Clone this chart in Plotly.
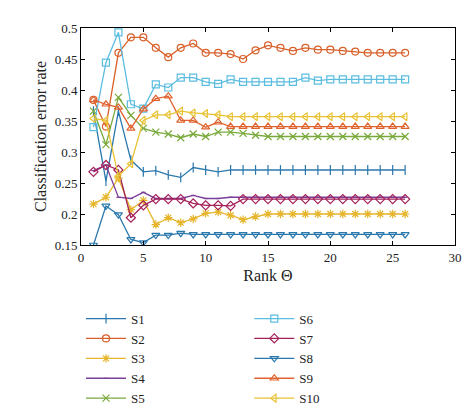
import plotly.graph_objects as go

rank = list(range(1, 27))

s1 = [0.366, 0.253, 0.366, 0.287, 0.268, 0.270, 0.263, 0.259, 0.275, 0.271, 0.268, 0.271, 0.271,
      0.271, 0.271, 0.271, 0.271, 0.271, 0.271, 0.271, 0.271, 0.271, 0.271, 0.271, 0.271, 0.271]
s2 = [0.384, 0.341, 0.460, 0.485, 0.485, 0.468, 0.453, 0.468, 0.475, 0.460, 0.460, 0.458, 0.450,
      0.464, 0.472, 0.468, 0.463, 0.468, 0.465, 0.465, 0.463, 0.462, 0.460, 0.460, 0.460, 0.460]
s3 = [0.216, 0.227, 0.258, 0.207, 0.222, 0.183, 0.194, 0.186, 0.192, 0.201, 0.203, 0.198, 0.191,
      0.196, 0.200, 0.200, 0.200, 0.200, 0.200, 0.200, 0.200, 0.200, 0.200, 0.200, 0.200, 0.200]
s4 = [0.270, 0.279, 0.227, 0.225, 0.235, 0.225, 0.225, 0.225, 0.230, 0.225, 0.225, 0.227, 0.227,
      0.227, 0.227, 0.227, 0.227, 0.227, 0.227, 0.227, 0.227, 0.227, 0.227, 0.227, 0.227, 0.227]
s5 = [0.366, 0.312, 0.388, 0.359, 0.338, 0.332, 0.329, 0.323, 0.329, 0.325, 0.332, 0.332, 0.330,
      0.327, 0.325, 0.325, 0.325, 0.325, 0.325, 0.325, 0.325, 0.325, 0.325, 0.325, 0.325, 0.325]
s6 = [0.340, 0.444, 0.493, 0.377, 0.370, 0.409, 0.404, 0.420, 0.420, 0.413, 0.410, 0.417, 0.413,
      0.413, 0.413, 0.413, 0.413, 0.420, 0.415, 0.417, 0.417, 0.417, 0.417, 0.417, 0.417, 0.417]
s7 = [0.268, 0.279, 0.271, 0.194, 0.214, 0.224, 0.224, 0.224, 0.217, 0.214, 0.214, 0.213, 0.224,
      0.224, 0.224, 0.224, 0.224, 0.224, 0.224, 0.224, 0.224, 0.224, 0.224, 0.224, 0.224, 0.224]
s8 = [0.150, 0.213, 0.199, 0.159, 0.154, 0.166, 0.166, 0.169, 0.167, 0.167, 0.167, 0.167, 0.167,
      0.167, 0.167, 0.167, 0.167, 0.167, 0.167, 0.167, 0.167, 0.167, 0.167, 0.167, 0.167, 0.167]
s9 = [0.384, 0.377, 0.372, 0.338, 0.369, 0.386, 0.390, 0.351, 0.351, 0.340, 0.348, 0.341, 0.341,
      0.341, 0.341, 0.341, 0.341, 0.341, 0.341, 0.341, 0.341, 0.341, 0.341, 0.341, 0.341, 0.341]
s10 = [0.354, 0.351, 0.261, 0.281, 0.351, 0.360, 0.360, 0.366, 0.363, 0.362, 0.360, 0.357, 0.357,
       0.357, 0.357, 0.357, 0.357, 0.357, 0.357, 0.357, 0.357, 0.357, 0.357, 0.357, 0.357, 0.357]

series = [
    ("S1", s1, "#2b78ad", "line-ns-open", "legend"),
    ("S2", s2, "#d8602a", "circle-open", "legend"),
    ("S3", s3, "#e6b52c", "asterisk-open", "legend"),
    ("S4", s4, "#7a3f98", "line-ew", "legend"),
    ("S5", s5, "#79a93a", "x-thin-open", "legend"),
    ("S6", s6, "#5bbde0", "square-open", "legend2"),
    ("S7", s7, "#a4215a", "diamond-open", "legend2"),
    ("S8", s8, "#2b78ad", "triangle-down-open", "legend2"),
    ("S9", s9, "#e0622e", "triangle-up-open", "legend2"),
    ("S10", s10, "#e8c232", "triangle-left-open", "legend2"),
]

fig = go.Figure()
for name, ys, color, symbol, leg in series:
    fig.add_trace(go.Scatter(
        x=rank, y=ys, name=name, mode="lines+markers", legend=leg,
        line=dict(color=color, width=1.3),
        marker=dict(symbol=symbol, size=7 if symbol != "line-ew" else 3,
                    color=color, line=dict(color=color, width=1.2)),
    ))

axis = dict(showline=True, linecolor="black", linewidth=1, mirror="ticks",
            ticks="inside", ticklen=4, tickcolor="black", showgrid=False, zeroline=False)
legend_style = dict(bgcolor="rgba(0,0,0,0)", font=dict(size=13), yanchor="top",
                    tracegroupgap=0, itemwidth=40)
fig.update_layout(
    width=474, height=418,
    plot_bgcolor="white", paper_bgcolor="white",
    font=dict(family="Liberation Serif", size=13, color="#222"),
    margin=dict(l=73, r=27, t=20, b=166),
    xaxis=dict(axis, range=[0, 30], dtick=5, title=dict(text="Rank Θ", standoff=6)),
    yaxis=dict(axis, range=[0.15, 0.5], dtick=0.05, tickformat=".2~f",
               title=dict(text="Classification error rate", standoff=4)),
    legend=dict(legend_style, x=0.0, y=-0.27),
    legend2=dict(legend_style, x=0.45, y=-0.27),
)

fig.write_html("out.html")
